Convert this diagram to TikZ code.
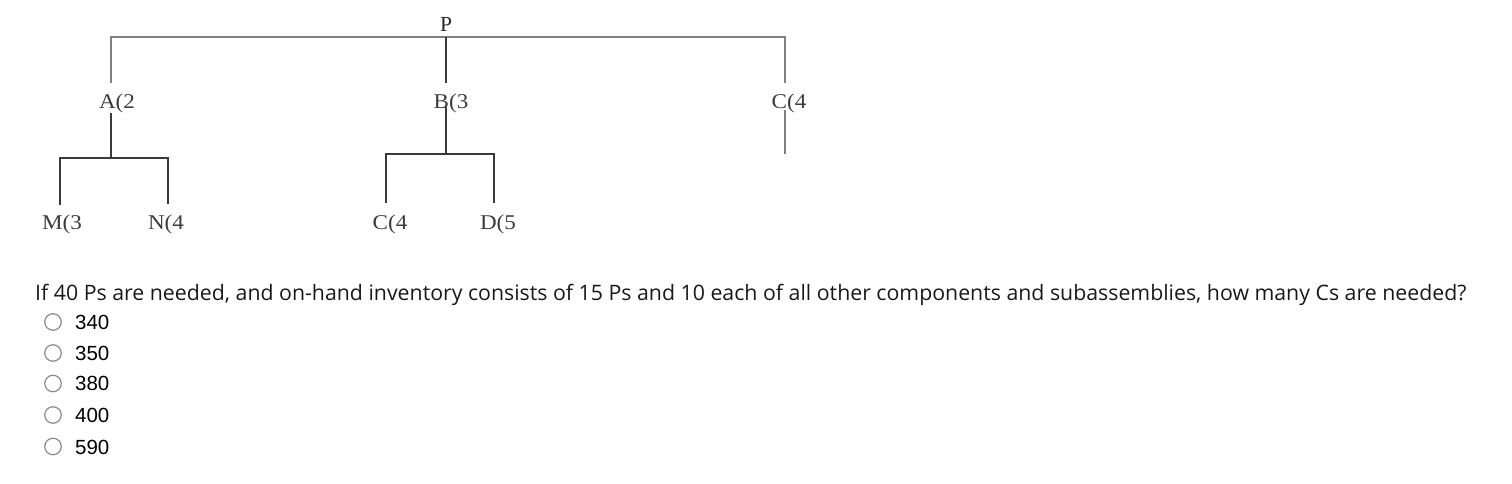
\documentclass[tikz,border=0pt]{standalone}
\usepackage{fontspec}
\setmainfont{Liberation Serif}
\newfontfamily\qfont{Open Sans}
\newfontfamily\ofont{Liberation Sans}
\definecolor{lnlight}{HTML}{808080}
\definecolor{lndark}{HTML}{3A3A3A}
\definecolor{lbl}{HTML}{3C3C3C}
\definecolor{radio}{HTML}{8A8A8A}
\tikzset{
  lab/.style={inner sep=0pt, anchor=base, text=lbl, font=\fontsize{21}{22}\selectfont},
  lightln/.style={draw=lnlight, line width=1.5pt},
  darkln/.style={draw=lndark, line width=1.5pt},
  opt/.style={inner sep=0pt, anchor=base west, font=\ofont\fontsize{20.5}{22}\selectfont, text=black},
  rad/.style={circle, draw=radio, line width=1.2pt, minimum size=16.5pt, inner sep=0pt},
}
\begin{document}
\begin{tikzpicture}[x=1pt,y=-1pt]
\useasboundingbox (0,0) rectangle (1512,484);
% labels
\node[lab, font=\fontsize{21.5}{22}\selectfont, text=black!85] (P) at (446,32) {P};
\node[lab] (A) at (117,109) {\scalebox{1.1}[1]{A(2}};
\node[lab] (B) at (451,109) {\scalebox{1.1}[1]{B(3}};
\node[lab] (C1) at (789,109) {\scalebox{1.1}[1]{C(4}};
\node[lab] (M) at (62,229) {\scalebox{1.1}[1]{M(3}};
\node[lab] (N) at (166,229) {\scalebox{1.1}[1]{N(4}};
\node[lab] (C2) at (390,229) {\scalebox{1.1}[1]{C(4}};
\node[lab] (D) at (498,229) {\scalebox{1.1}[1]{D(5}};
% junction coordinates
\coordinate (pj) at (446,37);
\coordinate (pl) at (111,37);
\coordinate (pr) at (785,37);
\coordinate (atop) at (111,83);
\coordinate (btop) at (446,83);
\coordinate (ctop) at (785,83);
\coordinate (abot) at (111,113);
\coordinate (bbot) at (446,107);
\coordinate (cbot) at (785,110);
\coordinate (aj) at (111,158);
\coordinate (ajl) at (60,158);
\coordinate (ajr) at (168,158);
\coordinate (bj) at (446,154);
\coordinate (bjl) at (386,154);
\coordinate (bjr) at (494,154);
\coordinate (mtop) at (60,205);
\coordinate (ntop) at (168,204);
\coordinate (c2top) at (386,203);
\coordinate (dtop) at (494,203);
\coordinate (cend) at (785,154);
% lines
\draw[lightln] (atop) -- (pl) -- (pr) -- (ctop);
\draw[darkln] (pj) -- (btop);
\draw[lightln] (cbot) -- (cend);
\draw[darkln] (abot) -- (aj);
\draw[darkln] (mtop) -- (ajl) -- (ajr) -- (ntop);
\draw[darkln] (bbot) -- (bj);
\draw[darkln] (c2top) -- (bjl) -- (bjr) -- (dtop);
% question
\node[inner sep=0pt, anchor=base west, font=\qfont\fontsize{21.3}{24}\selectfont, text=black!90] (q) at (35,300) {If 40 Ps are needed, and on-hand inventory consists of 15 Ps and 10 each of all other components and subassemblies, how many Cs are needed?};
% options
\node[rad] (r1) at (53,322) {};
\node[rad] (r2) at (53,353) {};
\node[rad] (r3) at (53,383.5) {};
\node[rad] (r4) at (53,415) {};
\node[rad] (r5) at (53,446.5) {};
\node[opt] (o1) at (75,329) {340};
\node[opt] (o2) at (75,360.5) {350};
\node[opt] (o3) at (75,390.5) {380};
\node[opt] (o4) at (75,422) {400};
\node[opt] (o5) at (75,454) {590};
\end{tikzpicture}
\end{document}
